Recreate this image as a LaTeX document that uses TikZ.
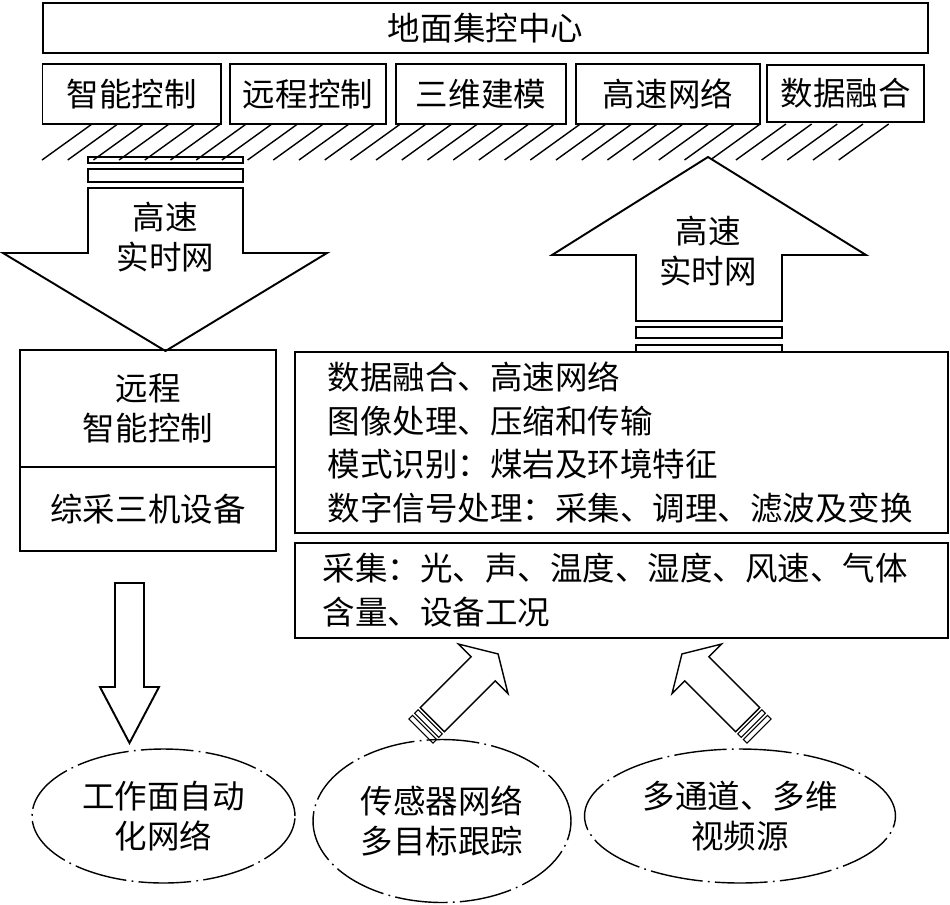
\documentclass[tikz,border=0pt]{standalone}
\usepackage{fontspec}
\setmainfont{Noto Sans CJK SC}
\usetikzlibrary{positioning, shapes.geometric}

\begin{document}
\begin{tikzpicture}[
    x=0.02cm, y=-0.02cm,
    every node/.style={align=center, font=\fontsize{18.5}{23}\selectfont},
    box/.style={rectangle, draw, line width=1.1pt, inner sep=0pt, outer sep=0pt},
    textbox/.style={box, align=left, font=\fontsize{18.5}{25}\selectfont},
    src/.style={ellipse, draw, line width=0.8pt, inner sep=0pt, dash pattern=on 30pt off 3pt on 1pt off 3pt},
    blk/.style={draw, line width=1.1pt, line join=miter, fill=white},
    ring/.style={draw, line width=0.8pt},
    hatch/.style={line width=0.8pt}
]
\useasboundingbox (0,0) rectangle (950,904);

% ground centre
\node[box, minimum width=17.7cm, minimum height=1cm] (center) at (485.5,28) {地面集控中心};
\node[box, minimum width=3.57cm, minimum height=1.2cm] (ctrl) at (131.75,94) {智能控制};
\node[box, minimum width=3.12cm, minimum height=1.2cm] (remote) at (308,94) {远程控制};
\node[box, minimum width=3.4cm, minimum height=1.2cm] (model) at (481,94) {三维建模};
\node[box, minimum width=3.68cm, minimum height=1.2cm] (net) at (668,94) {高速网络};
\node[box, minimum width=3.14cm, minimum height=1.14cm] (fuse) at (845.5,93.5) {数据融合};

% ground line
\foreach \k in {0,...,31}
    \draw[hatch] ({42+25.7*\k},160) -- ({92+25.7*\k},124);

% down link
\draw[ring] (88,157) rectangle (243,163);
\draw[ring] (88,169) rectangle (243,182);
\draw[blk] (88,188) -- (243,188) -- (243,253) -- (327,253) -- (165.5,351) -- (3,253) -- (88,253) -- cycle;
\node (down) at (165.5,237) {高速\\实时网};

% up link
\draw[blk] (636,321) -- (636,255) -- (552,255) -- (708,157) -- (866,255) -- (782,255) -- (782,321) -- cycle;
\draw[ring] (636,327) rectangle (782,338);
\draw[ring] (636,345) rectangle (782,352);
\node (up) at (708,251) {高速\\实时网};

% working face
\node[box, minimum width=5.12cm, minimum height=2.34cm] (intel) at (148,408.5) {远程\\智能控制};
\node[box, minimum width=5.12cm, minimum height=1.68cm, below=0pt of intel] (equip) {综采三机设备};

\node[textbox, minimum width=13.06cm, minimum height=3.62cm, text width=11.75cm] (proc) at (621.5,442.5)
    {数据融合、高速网络\\图像处理、压缩和传输\\模式识别：煤岩及环境特征\\数字信号处理：采集、调理、滤波及变换};
\node[textbox, minimum width=13.06cm, minimum height=1.9cm, text width=11.95cm, below=0.2cm of proc] (acq)
    {采集：光、声、温度、湿度、风速、气体\\含量、设备工况};

\draw[blk] (115,583) -- (144,583) -- (144,687) -- (159,687) -- (129.5,743) -- (100,687) -- (115,687) -- cycle;

% sources
\node[src, minimum width=5.26cm, minimum height=2.68cm] (auto) at (163.5,816) {工作面自动\\化网络};
\node[src, minimum width=5.16cm, minimum height=3.26cm] (sensor) at (442,821) {传感器网络\\多目标跟踪};
\node[src, minimum width=6.22cm, minimum height=2.68cm] (video) at (740,816) {多通道、多维\\视频源};

% cameras
\foreach \px/\ang in {421/45, 759/135} {
    \begin{scope}[shift={(\px,731)}, rotate=\ang]
        \draw[ring, line width=0.6pt] (0,-17) rectangle (5,17);
        \draw[ring, line width=0.6pt] (8,-17) rectangle (13,17);
        \draw[blk, line width=0.8pt] (16,-17) -- (88,-17) -- (88,-35) -- (109,0) -- (88,35) -- (88,17) -- (16,17) -- cycle;
    \end{scope}
}
\end{tikzpicture}
\end{document}
